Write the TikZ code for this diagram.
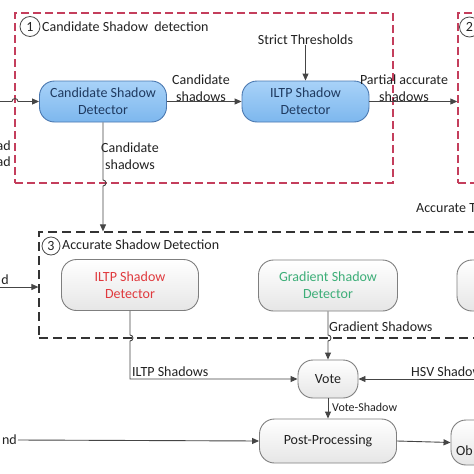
\documentclass[tikz,border=0pt]{standalone}
\usepackage{fontspec}
\setmainfont{Carlito}
\usetikzlibrary{arrows.meta}
\definecolor{linec}{HTML}{454545}
\definecolor{textc}{HTML}{222222}
\definecolor{redc}{HTML}{C43E5C}
\definecolor{bluet}{HTML}{A8D2F8}
\definecolor{blueb2}{HTML}{7DB7EE}
\definecolor{blued}{HTML}{4A78B0}
\definecolor{navy}{HTML}{1F3A60}
\definecolor{grayb}{HTML}{7F7F7F}
\definecolor{grayf}{HTML}{E6E6E6}
\definecolor{redt}{HTML}{E03A3E}
\definecolor{greent}{HTML}{3DAE78}
\tikzset{
  conn/.style={draw=linec, line width=0.9pt, -{Triangle[length=7pt,width=6pt]}},
  plainln/.style={draw=linec, line width=0.9pt},
  bluebox/.style={rounded corners=15pt, draw=blued, line width=0.9pt, top color=bluet, bottom color=blueb2, text=navy, minimum width=127pt, minimum height=41pt, align=center, inner sep=0pt, font=\fontsize{14}{17}\selectfont},
  graybox/.style={rounded corners=15pt, draw=grayb, line width=0.9pt, top color=white, bottom color=grayf, minimum height=51pt, minimum width=138pt, align=center, inner sep=0pt, text=textc, font=\fontsize{14}{17}\selectfont},
  lbl/.style={inner sep=0pt, align=center, text=textc, font=\fontsize{14}{17}\selectfont},
  reddash/.style={draw=redc, line width=1.4pt, dash pattern=on 8pt off 4pt, inner sep=0pt},
  blackdash/.style={draw=black!80, line width=1.2pt, dash pattern=on 9pt off 5pt, inner sep=0pt},
  numc/.style={circle, draw=black!70, line width=0.8pt, minimum size=20pt, inner sep=0pt, text=textc, font=\fontsize{14}{17}\selectfont},
}
\begin{document}
\begin{tikzpicture}[x=1pt,y=-1pt]
\useasboundingbox[fill=white] (0,0) rectangle (474,474);
% dashed frames
\node[reddash, minimum width=378pt, minimum height=170pt] (box1) at (204,98) {};
\node[reddash, minimum width=120pt, minimum height=170pt] (box2) at (518,98) {};
\node[blackdash, minimum width=481pt, minimum height=106pt] (box3) at (279.5,285) {};
% frame titles
\node[numc] (n1) at (30,26.5) {1};
\node[lbl, anchor=west] (t1) at (42,27) {Candidate Shadow\ \ detection};
\node[numc] (n2) at (469.5,27) {2};
\node[numc, minimum size=18pt] (n3) at (51,246) {3};
\node[lbl, anchor=west] (t3) at (62,245) {Accurate Shadow Detection};
% nodes
\node[bluebox] (cand) at (103,101.5) {Candidate Shadow\\Detector};
\node[bluebox] (iltp1) at (305.5,101.5) {ILTP Shadow\\Detector};
\node[graybox, minimum width=137pt, text=redt] (iltp2) at (130,285) {ILTP Shadow\\Detector};
\node[graybox, minimum width=139pt, text=greent] (grad) at (328,285.5) {Gradient Shadow\\Detector};
\node[graybox, minimum width=140pt] (hsvd) at (527,285.5) {};
\node[graybox, minimum width=60pt, minimum height=38pt] (vote) at (328,379) {Vote};
\node[graybox, minimum width=137pt, minimum height=44pt] (post) at (328,441) {Post-Processing};
\node[graybox, minimum width=140pt, minimum height=45pt] (ob) at (521,442.5) {};
\node[lbl, anchor=west] (obt) at (456,451) {Ob};
% labels
\node[lbl] (thr) at (305.5,40) {Strict Thresholds};
\node[lbl] (cs1) at (201,88) {Candidate\\shadows};
\node[lbl] (pas) at (404,88.5) {Partial accurate\\shadows};
\node[lbl] (cs2) at (130,156.5) {Candidate\\shadows};
\node[lbl, anchor=east] (ad1) at (11,146) {ad};
\node[lbl, anchor=east] (ad2) at (11,162) {ad};
\node[lbl, anchor=west] (acc) at (416,208) {Accurate Thresholds};
\node[lbl, anchor=south east] (dd) at (9,285) {d};
\node[lbl, anchor=west] (ilts) at (132,372) {ILTP Shadows};
\node[lbl, anchor=west] (grs) at (329,327) {Gradient Shadows};
\node[lbl, anchor=west] (hsvs) at (411,372) {HSV Shadows};
\node[lbl, anchor=west, font=\fontsize{12}{14}\selectfont] (vs) at (332,407) {Vote-Shadow};
\node[lbl, anchor=east] (ndt) at (17,440) {nd};
% coordinates
\coordinate (inL) at (0,101.5);
\coordinate (hopA) at (15,101.5);
\coordinate (hopB) at (103,183);
\coordinate (hopC) at (130,338);
\coordinate (hopD) at (328,338);
\coordinate (in3) at (0,287);
\coordinate (hsvR) at (474,379);
\coordinate (ndR) at (18,440);
% connectors
\draw[conn] (inL) -- ([xshift=-3pt]hopA) arc[start angle=180, end angle=0, radius=3pt] -- (cand.west);
\draw[conn] (cand.east) -- (iltp1.west);
\draw[conn] (thr.south) -- (iltp1.north);
\draw[conn] (iltp1.east) -- (iltp1.east -| box2.west);
\draw[conn] (cand.south) -- ([yshift=3pt]hopB) arc[start angle=90, end angle=-90, radius=3pt] -- (cand.south |- box3.north);
\draw[conn] (in3) -- (in3 -| box3.west);
\draw[conn] (iltp2.south) -- ([yshift=3pt]hopC) arc[start angle=90, end angle=-90, radius=3pt] -- (iltp2.south |- vote.west) -- (vote.west);
\draw[conn] (grad.south) -- ([yshift=3pt]hopD) arc[start angle=90, end angle=-90, radius=3pt] -- (vote.north);
\draw[conn] (hsvR) -- (vote.east);
\draw[conn] (vote.south) -- (post.north);
\draw[conn] (ndR) -- (post.west);
\draw[conn] (post.east) -- (ob.west);
\end{tikzpicture}
\end{document}
